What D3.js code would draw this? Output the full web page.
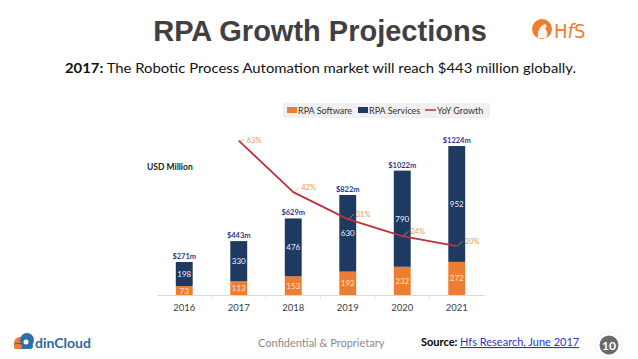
<!DOCTYPE html>
<html>
<head>
<meta charset="utf-8">
<script src="https://cdn.jsdelivr.net/npm/d3@7"></script>
<style>
  body { margin:0; background:#fff; }
  svg { display:block; }
  text { font-family: Lato, "Open Sans", sans-serif; }
</style>
</head>
<body>
<svg id="slide" width="638" height="359"></svg>
<script>
// chart values
const years    = ["2016","2017","2018","2019","2020","2021"];
const software = [73, 113, 153, 192, 232, 272];
const services = [198, 330, 476, 630, 790, 952];
const totals   = ["$271m","$443m","$629m","$822m","$1022m","$1224m"];
const growthYears = ["2017","2018","2019","2020","2021"];
const growth      = [63, 42, 31, 24, 20];
const legendItems = ["RPA Software","RPA Services","YoY Growth"];

const orange = "#ed7d31", navy = "#1f3a60", red = "#c0303a";

const svg = d3.select("#slide");

// title + subtitle
svg.append("text").attr("x", 320).attr("y", 41).attr("text-anchor","middle")
  .style("font-family","'Liberation Sans', Arial, sans-serif").style("font-weight","bold")
  .style("font-size","29px").attr("fill","#404040").text("RPA Growth Projections");

const sub = svg.append("text").attr("x", 65).attr("y", 73)
  .attr("textLength", 511).attr("lengthAdjust", "spacingAndGlyphs")
  .style("font-size","14px").attr("fill","#111");
sub.append("tspan").style("font-weight","bold").text("2017:");
sub.append("tspan").text(" The Robotic Process Automation market will reach $443 million globally.");

// HfS logo (top right)
const hfs = svg.append("g");
hfs.append("circle").attr("cx", 542).attr("cy", 29).attr("r", 10).attr("fill", orange);
hfs.append("path").attr("d","M538,38 C537,31 540,26 545,24 C547,25 547,28 545,29 C548,31 548,35 546,38 Z")
  .attr("fill","#fff").attr("opacity",0.9);
hfs.append("text").attr("x", 554).attr("y", 38).attr("fill", orange)
  .style("font-family","'DejaVu Sans Condensed', sans-serif").style("font-size","20px")
  .text("H").append("tspan").style("font-style","italic").text("f")
  .append("tspan").style("font-style","normal").text("S");

// chart geometry
const base = 295;
const x = d3.scaleBand().domain(years).range([157, 484]).paddingInner(0.69).paddingOuter(0.345);
const yBar = d3.scaleLinear().domain([0, 1300]).range([base, base - 1300 * 0.1217]);
const yGr  = d3.scaleLinear().domain([0, 70]).range([base, base - 70 * 2.449]);

// axis
const axis = svg.append("g").attr("transform", `translate(0,${base})`)
  .call(d3.axisBottom(x).tickSize(0).tickPadding(9));
axis.select(".domain").attr("stroke","#d9d9d9");
axis.selectAll("text").style("font-family","Lato, sans-serif").style("font-size","9.5px").attr("fill","#404040");
svg.append("g").selectAll("line").data(years.slice(1)).join("line")
  .attr("x1", d => x(d) - (x.step() - x.bandwidth()) / 2)
  .attr("x2", d => x(d) - (x.step() - x.bandwidth()) / 2)
  .attr("y1", base).attr("y2", base + 4).attr("stroke","#e4e4e4");

// stacked bars
const rows = years.map((yr, i) => ({ yr, sw: software[i], sv: services[i], tot: totals[i] }));
const bars = svg.append("g");
bars.selectAll("rect.sw").data(rows).join("rect").attr("class","sw")
  .attr("x", d => x(d.yr)).attr("width", x.bandwidth())
  .attr("y", d => yBar(d.sw)).attr("height", d => base - yBar(d.sw)).attr("fill", orange);
bars.selectAll("rect.sv").data(rows).join("rect").attr("class","sv")
  .attr("x", d => x(d.yr)).attr("width", x.bandwidth())
  .attr("y", d => yBar(d.sw + d.sv)).attr("height", d => yBar(d.sw) - yBar(d.sw + d.sv)).attr("fill", navy);

const cx = d => x(d) + x.bandwidth() / 2;
bars.selectAll("text.swv").data(rows).join("text").attr("class","swv")
  .attr("x", d => cx(d.yr)).attr("y", d => (base + yBar(d.sw)) / 2 + 3)
  .attr("text-anchor","middle").style("font-size","8px").attr("fill","#fde4cf").text(d => d.sw);
bars.selectAll("text.svv").data(rows).join("text").attr("class","svv")
  .attr("x", d => cx(d.yr)).attr("y", d => (yBar(d.sw) + yBar(d.sw + d.sv)) / 2 + 3)
  .attr("text-anchor","middle").style("font-size","8px").attr("fill","#eef").text(d => d.sv);
bars.selectAll("text.tot").data(rows).join("text").attr("class","tot")
  .attr("x", d => cx(d.yr)).attr("y", d => yBar(d.sw + d.sv) - 3)
  .attr("text-anchor","middle").style("font-size","7.5px").style("font-weight","bold")
  .attr("fill","#2e3a8a").text(d => d.tot);

// growth line
const pts = growthYears.map((yr, i) => ({ yr, v: growth[i] }));
svg.append("path").datum(pts)
  .attr("d", d3.line().x(d => cx(d.yr)).y(d => yGr(d.v)))
  .attr("fill","none").attr("stroke", red).attr("stroke-width", 1.8).attr("stroke-linejoin","round");
const lab = svg.append("g").selectAll("g").data(pts).join("g")
  .attr("transform", d => `translate(${cx(d.yr)},${yGr(d.v)})`);
lab.append("line").attr("x1", 1).attr("y1", 0).attr("x2", 6).attr("y2", (d, i) => i === 0 ? -1 : -5)
  .attr("stroke","#a9b98a").attr("stroke-width", 0.7);
lab.append("text").attr("x", 8).attr("y", (d, i) => i === 0 ? 2 : -2)
  .style("font-size","7.5px").attr("fill","#e39b4a").text(d => d.v + "%");

// unit label
svg.append("text").attr("x", 147).attr("y", 170).style("font-size","8.5px").style("font-weight","bold")
  .attr("fill","#222").text("USD Million");

// legend
const lg = svg.append("g");
lg.append("rect").attr("x", 283).attr("y", 103).attr("width", 207).attr("height", 15).attr("fill","#f0f0f0");
const lgx = [287, 358, 425];
legendItems.forEach((t, i) => {
  if (i < 2) lg.append("rect").attr("x", lgx[i]).attr("y", 107).attr("width", 10).attr("height", 6)
    .attr("fill", i === 0 ? orange : navy);
  else lg.append("line").attr("x1", lgx[i]).attr("x2", lgx[i] + 11).attr("y1", 110).attr("y2", 110)
    .attr("stroke", red).attr("stroke-width", 1.5);
  lg.append("text").attr("x", lgx[i] + (i < 2 ? 11 : 12)).attr("y", 113.5)
    .style("font-size","9px").attr("fill","#333").text(t);
});

// footer
const dc = svg.append("g");
dc.append("circle").attr("cx", 20).attr("cy", 343).attr("r", 6).attr("fill", orange);
dc.append("circle").attr("cx", 27).attr("cy", 340).attr("r", 7).attr("fill", "#2f6fa8");
dc.append("rect").attr("x", 14).attr("y", 343).attr("width", 19).attr("height", 6).attr("rx", 3).attr("fill", "#2f6fa8");
dc.append("rect").attr("x", 14).attr("y", 344).attr("width", 8).attr("height", 5).attr("rx", 2.5).attr("fill", orange);
dc.append("circle").attr("cx", 26).attr("cy", 342).attr("r", 2.5).attr("fill", "#fff");
dc.append("text").attr("x", 35).attr("y", 348).style("font-size","14px").style("font-weight","bold")
  .attr("fill","#2a6aa3").text("dinCloud");

svg.append("text").attr("x", 258).attr("y", 347).style("font-size","11px").attr("fill","#8a8a8a")
  .text("Confidential & Proprietary");
const src = svg.append("text").attr("x", 421).attr("y", 346).style("font-size","11px").attr("fill","#000");
src.append("tspan").style("font-weight","bold").text("Source: ");
src.append("tspan").attr("fill","#2a34c8").style("text-decoration","underline").text("Hfs Research, June 2017");

svg.append("circle").attr("cx", 609).attr("cy", 345).attr("r", 13).attr("fill","none")
  .attr("stroke","#bcd").attr("stroke-width", 0.8).attr("stroke-dasharray","1,2");
svg.append("circle").attr("cx", 609).attr("cy", 345).attr("r", 9.5).attr("fill","#6b6b6b");
svg.append("text").attr("x", 609).attr("y", 349.5).attr("text-anchor","middle")
  .style("font-size","12px").style("font-weight","bold").attr("fill","#fff").text("10");
</script>
</body>
</html>
